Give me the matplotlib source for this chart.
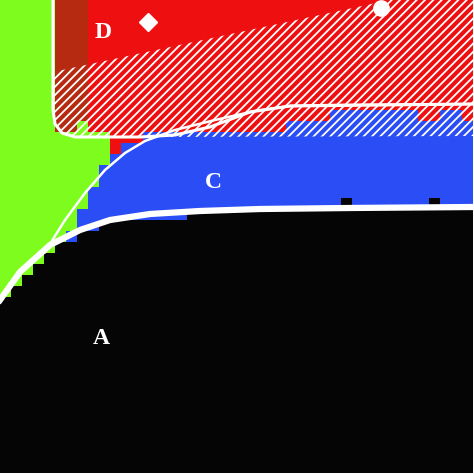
import numpy as np
import matplotlib
matplotlib.use("Agg")
import matplotlib.pyplot as plt
from matplotlib.patches import Polygon
from matplotlib.colors import ListedColormap

plt.rcParams['hatch.color'] = 'white'
plt.rcParams['hatch.linewidth'] = 1.3

# per-column (43 columns of 11 px) phase boundaries, in cell rows from top
black_top = [27, 26, 25, 24, 23, 22, 22, 21, 21, 20, 20, 20, 20, 20, 20, 20, 20,
             19, 19, 19, 19, 19, 19, 19, 19, 19, 19, 19, 19, 19, 19, 18, 19, 19,
             19, 19, 19, 19, 19, 18, 19, 19, 19]
blue_top = [27, 26, 25, 24, 23, 22, 21, 19, 17, 15, 14, 13, 13, 12, 12, 12, 12,
            12, 12, 12, 12, 12, 12, 12, 12, 12, 11, 11, 11, 11, 10, 10, 10, 10,
            10, 10, 10, 10, 11, 11, 10, 10, 11]
red_bottom = [0, 0, 0, 0, 0, 12, 12, 11, 12, 12, 14, 13, 13, 12, 12, 12, 12,
              12, 12, 12, 12, 12, 12, 12, 12, 12, 11, 11, 11, 11, 10, 10, 10, 10,
              10, 10, 10, 10, 11, 11, 10, 10, 11]
dark_red_cols = [5, 6, 7]
n_cols = 43
n_rows = 43
cell = 11

# boundary curves (pixel coordinates)
thick_x = [0, 20, 50, 80, 110, 150, 200, 260, 350, 474]
thick_y = [300, 272, 245, 230, 220, 214, 211, 209, 208, 207]
thin_x = [45, 65, 85, 105, 125, 145, 175, 215, 255, 290, 330, 474]
thin_y = [252, 220, 193, 170, 153, 141, 130, 120, 111, 106, 105, 104]
rect_x = [53, 53, 55, 62, 75, 140, 175, 210, 250, 290, 474]
rect_y = [0, 110, 124, 133, 137, 137, 135, 127, 112, 106, 104]
hatch_x = [53, 390, 474, 474, 140, 75, 62, 55, 53]
hatch_y = [72, 0, 0, 136, 137, 137, 133, 124, 110]

grid = np.zeros((n_rows, n_cols))
for c in range(n_cols):
    for r in range(n_rows):
        if r >= black_top[c]:
            grid[r, c] = 3
        elif r >= blue_top[c]:
            grid[r, c] = 2
        elif r >= red_bottom[c]:
            grid[r, c] = 0
        else:
            grid[r, c] = 4 if c in dark_red_cols else 1
cmap = ListedColormap(['#7efc1e', '#ee1010', '#2a4df5', '#050505', '#b52a10'])

fig = plt.figure(figsize=(4.74, 4.74), dpi=100)
ax = fig.add_axes([0, 0, 1, 1])
ax.imshow(grid, cmap=cmap, vmin=0, vmax=4, extent=[0, n_cols * cell, n_rows * cell, 0],
          interpolation='nearest', aspect='auto')
ax.add_patch(Polygon(np.column_stack([hatch_x, hatch_y]), closed=True, facecolor='none',
                     edgecolor='white', linewidth=0, hatch='////'))
ax.plot(rect_x, rect_y, color='white', lw=2.2, solid_capstyle='round')
ax.plot(thin_x, thin_y, color='white', lw=1.8)
ax.plot(thick_x, thick_y, color='white', lw=4.5)
ax.plot([148], [22], marker='D', color='white', markersize=9)
ax.plot([381], [8], marker='o', color='white', markersize=11)
for t, x, y in [('D', 103, 32), ('C', 213, 183), ('A', 101, 338)]:
    ax.text(x, y, t, color='white', fontsize=17, fontweight='bold', family='Liberation Serif',
            ha='center', va='center')
ax.set_xlim(0, 474)
ax.set_ylim(474, 0)
ax.axis('off')
fig.savefig('out.png', dpi=100)
